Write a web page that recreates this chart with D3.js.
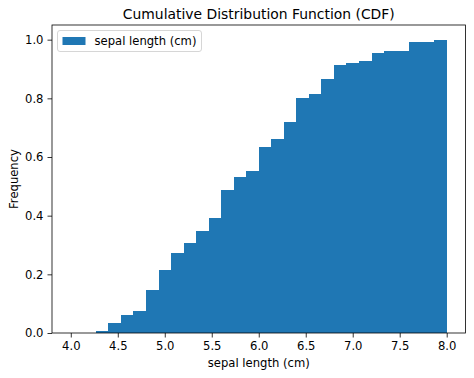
<!DOCTYPE html>
<html>
<head>
<meta charset="utf-8">
<script src="https://cdn.jsdelivr.net/npm/d3@7"></script>
<style>
body { margin: 0; background: #fff; }
svg { font-family: "DejaVu Sans", sans-serif; }
</style>
</head>
<body>
<svg width="474" height="378"></svg>
<script>
// bin edges (30 bins between 4.0 and 8.0)
var binEdges = [4.0, 4.1333, 4.2667, 4.4, 4.5333, 4.6667, 4.8, 4.9333, 5.0667, 5.2, 5.3333,
	5.4667, 5.6, 5.7333, 5.8667, 6.0, 6.1333, 6.2667, 6.4, 6.5333, 6.6667,
	6.8, 6.9333, 7.0667, 7.2, 7.3333, 7.4667, 7.6, 7.7333, 7.8667, 8.0];
// cumulative frequency of each bin
var cdfValues = [0, 0, 0.0067, 0.0333, 0.06, 0.0733, 0.1467, 0.2133, 0.2733, 0.3067,
	0.3467, 0.3933, 0.4867, 0.5333, 0.5533, 0.6333, 0.66, 0.72, 0.8, 0.8133,
	0.8667, 0.9133, 0.92, 0.9267, 0.9533, 0.96, 0.96, 0.9933, 0.9933, 1.0];
var xTicks = [4.0, 4.5, 5.0, 5.5, 6.0, 6.5, 7.0, 7.5, 8.0];
var yTicks = [0.0, 0.2, 0.4, 0.6, 0.8, 1.0];
var seriesName = "sepal length (cm)";

var svg = d3.select("svg"),
	margin = {left: 52, right: 8.5, top: 25, bottom: 45},
	width = +svg.attr("width") - margin.left - margin.right,
	height = +svg.attr("height") - margin.top - margin.bottom;

var x = d3.scaleLinear().domain([3.8, 8.2]).range([0, width]);
var y = d3.scaleLinear().domain([0, 1.05]).range([height, 0]);

var g = svg.append("g").attr("transform", "translate(" + margin.left + "," + margin.top + ")");

var bins = cdfValues.map(function(v, i) {
	return {x0: binEdges[i], x1: binEdges[i + 1], v: v, last: i === cdfValues.length - 1};
});

g.selectAll("rect.bar")
	.data(bins)
	.enter().append("rect")
	.attr("class", "bar")
	.attr("x", function(d) { return x(d.x0); })
	.attr("width", function(d) { return x(d.x1) - x(d.x0) + (d.last ? 0 : 1); }) // overlap to hide seams
	.attr("y", function(d) { return y(d.v); })
	.attr("height", function(d) { return height - y(d.v); })
	.attr("fill", "#1f77b4")
	.attr("shape-rendering", "crispEdges");

// axes
var xAxis = g.append("g")
	.attr("transform", "translate(0," + height + ")")
	.call(d3.axisBottom(x).tickValues(xTicks).tickFormat(d3.format(".1f")).tickSize(4.5).tickPadding(4));
var yAxis = g.append("g")
	.call(d3.axisLeft(y).tickValues(yTicks).tickFormat(d3.format(".1f")).tickSize(4.5).tickPadding(4));

[xAxis, yAxis].forEach(function(a) {
	a.select(".domain").remove();
	a.selectAll("text").attr("font-size", 11.6).attr("fill", "#000").attr("font-family", "DejaVu Sans");
	a.selectAll("line").attr("stroke", "#000").attr("stroke-width", 0.8);
});

// frame
g.append("rect")
	.attr("width", width).attr("height", height)
	.attr("fill", "none").attr("stroke", "#000").attr("stroke-width", 0.8);

// labels
svg.append("text")
	.attr("x", margin.left + width / 2).attr("y", 19)
	.attr("text-anchor", "middle").attr("font-size", 13.9)
	.text("Cumulative Distribution Function (CDF)");
svg.append("text")
	.attr("x", margin.left + width / 2).attr("y", 367)
	.attr("text-anchor", "middle").attr("font-size", 11.6)
	.text("sepal length (cm)");
svg.append("text")
	.attr("transform", "translate(18," + (margin.top + height / 2) + ") rotate(-90)")
	.attr("text-anchor", "middle").attr("font-size", 11.6)
	.text("Frequency");

// legend
var legend = g.append("g").attr("transform", "translate(5.5,5.5)");
legend.append("rect")
	.attr("width", 144).attr("height", 21).attr("rx", 2.5)
	.attr("fill", "#fff").attr("fill-opacity", 0.8)
	.attr("stroke", "#ccc").attr("stroke-width", 0.8);
legend.append("rect")
	.attr("x", 5).attr("y", 6.5).attr("width", 23).attr("height", 8)
	.attr("fill", "#1f77b4");
legend.append("text")
	.attr("x", 37).attr("y", 14.5).attr("font-size", 11.6)
	.text(seriesName);
</script>
</body>
</html>
